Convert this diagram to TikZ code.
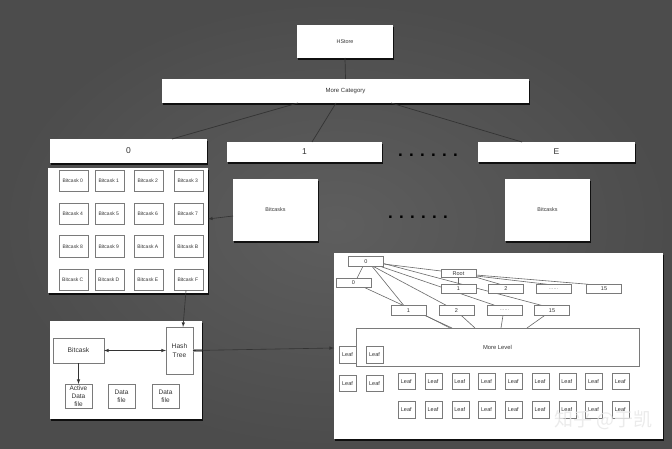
\documentclass[tikz,border=0pt]{standalone}
\usepackage{fontspec}
\setmainfont{Liberation Sans}
\newfontfamily\cjkfont{Noto Sans CJK SC}
\usepackage{xcolor}
\usetikzlibrary{matrix}
\usetikzlibrary{shadows}
\usetikzlibrary{backgrounds}
\definecolor{boardgray}{HTML}{5E5E5E}
\definecolor{boardedge}{HTML}{4C4C4C}
\definecolor{boxline}{HTML}{7A7A7A}
\definecolor{wireline}{HTML}{333333}
\definecolor{labeltext}{HTML}{333333}

\tikzset{
  panel/.style={draw=none, fill=white, inner sep=0pt, outer sep=0pt, text=labeltext,
    drop shadow={shadow xshift=0.6pt, shadow yshift=-1.6pt, fill=black, opacity=.8}},
  smallbox/.style={draw=boxline, line width=.7pt, fill=white, inner sep=0pt, outer sep=0pt, text=labeltext,
    align=center, font=\fontsize{5.5}{6.5}\selectfont},
  leafbox/.style={smallbox, minimum width=17pt, minimum height=16.5pt},
  levelbox/.style={smallbox, minimum width=35pt, minimum height=9.5pt},
  filebox/.style={smallbox, minimum width=27pt, minimum height=24pt, font=\fontsize{6.5}{8}\selectfont},
  wire/.style={draw=wireline, line width=.7pt},
  thinwire/.style={draw=boxline!85!black, line width=.6pt},
  arrowwire/.style={draw=wireline, line width=.6pt, >=latex},
  dotrow/.style={text=black, font=\fontsize{17}{17}\bfseries\selectfont, inner sep=0pt},
}

\begin{document}
\begin{tikzpicture}[x=1pt, y=-1pt]
  \useasboundingbox (0,0) rectangle (672,449);

  \begin{scope}[on background layer]
    \shade[inner color=boardgray, outer color=boardedge] (0,0) rectangle (672,449);
    \node[panel, minimum width=96pt, minimum height=33pt, font=\fontsize{5.4}{6}\selectfont] (hstore) at (345,41.5) {HStore};
    \node[panel, minimum width=367pt, minimum height=24pt, font=\fontsize{6}{7}\selectfont] (category) at (345.5,91) {More Category};
    \node[panel, minimum width=157pt, minimum height=24pt, font=\fontsize{8.5}{10}\selectfont] (zero) at (128.5,151) {0};
    \node[panel, minimum width=155pt, minimum height=20pt, font=\fontsize{8.5}{10}\selectfont] (one) at (304.5,152) {1};
    \node[panel, minimum width=157pt, minimum height=20pt, font=\fontsize{8.5}{10}\selectfont] (last) at (556.5,152) {E};
    \node[panel, minimum width=160pt, minimum height=125pt] (caskpanel) at (128,230.5) {};
    \node[panel, minimum width=85pt, minimum height=62pt, font=\fontsize{5.4}{6}\selectfont] (casksa) at (275.5,210) {Bitcasks};
    \node[panel, minimum width=85pt, minimum height=62pt, font=\fontsize{5.4}{6}\selectfont] (casksb) at (547.5,210) {Bitcasks};
    \node[panel, minimum width=152pt, minimum height=98pt] (filepanel) at (126,370) {};
    \node[panel, minimum width=329pt, minimum height=186pt] (treepanel) at (498.5,346) {};
  \end{scope}

  \node[dotrow] (dotsa) at (428,155) {. . . . . .};
  \node[dotrow] (dotsb) at (418,217) {. . . . . .};

  \matrix [
    matrix of nodes,
    inner sep=0pt,
    nodes={smallbox, minimum width=29pt, minimum height=21.5pt, font=\fontsize{5}{6}\selectfont},
  ] (M) at (131,230.5) {
    Bitcask 0 &[6.3pt] Bitcask 1 &[9.3pt] Bitcask 2 &[10.3pt] Bitcask 3 \\[10.8pt]
    Bitcask 4 & Bitcask 5 & Bitcask 6 & Bitcask 7 \\[10.3pt]
    Bitcask 8 & Bitcask 9 & Bitcask A & Bitcask B \\[11.3pt]
    Bitcask C & Bitcask D & Bitcask E & Bitcask F \\
  };

  \node[smallbox, minimum width=27pt, minimum height=47pt, font=\fontsize{6.7}{8.5}\selectfont] (hash) at (179.5,350.5) {Hash\\Tree};
  \node[smallbox, minimum width=51pt, minimum height=25pt, font=\fontsize{6.7}{8}\selectfont] (cask) at (78.5,350.5) {Bitcask};
  \node[filebox] (active) at (78.5,396) {Active\\Data\\file};
  \node[filebox] (filea) at (121.5,396) {Data\\file};
  \node[filebox] (fileb) at (165.5,396) {Data\\file};

  \node[levelbox] (topzero) at (366,261.5) {0};
  \node[levelbox] (leftzero) at (353.5,283) {0};
  \node[smallbox, minimum width=35pt, minimum height=7.5pt] (root) at (458.5,273.5) {Root};
  \node[levelbox] (upa) at (458.5,289) {1};
  \node[levelbox] (upb) at (506,289) {2};
  \node[levelbox] (upc) at (553.5,289) {\textcolor{gray}{......}};
  \node[levelbox] (upd) at (604,289) {15};
  \node[levelbox] (lowa) at (408.5,310.5) {1};
  \node[levelbox] (lowb) at (456.5,310.5) {2};
  \node[levelbox] (lowc) at (504.5,310.5) {\textcolor{gray}{......}};
  \node[levelbox] (lowd) at (552,310.5) {15};
  \node[smallbox, minimum width=283pt, minimum height=38pt, font=\fontsize{5.8}{7}\selectfont] (level) at (497.5,347) {More Level};

  \node[leafbox] (leafa) at (347.5,355) {Leaf};
  \node[leafbox] (leafb) at (374.5,355) {Leaf};
  \node[leafbox] (leafc) at (347.5,383.5) {Leaf};
  \node[leafbox] (leafd) at (374.5,383.5) {Leaf};

  \matrix [
    matrix of nodes,
    inner sep=0pt,
    nodes={leafbox},
    column sep=9.05pt, row sep=11.3pt,
  ] (L) at (514,395.5) {
    Leaf & Leaf & Leaf & Leaf & Leaf & Leaf & Leaf & Leaf & Leaf \\
    Leaf & Leaf & Leaf & Leaf & Leaf & Leaf & Leaf & Leaf & Leaf \\
  };

  \begin{scope}[on background layer]
    \draw[wire] (hstore.south) -- (category.north);
    \draw[wire] ([xshift=-47.5pt]category.south) -- ([xshift=43.5pt]zero.north);
    \draw[wire] ([xshift=-9.5pt]category.south) -- ([xshift=7.5pt]one.north);
    \draw[wire] ([xshift=45.5pt]category.south) -- ([xshift=-34.5pt]last.north);

    \draw[thinwire] ([xshift=-3pt]topzero.south) -- ([xshift=3.5pt]leftzero.north);
    \draw[thinwire] ([xshift=6pt]topzero.south) -- ([xshift=-4.5pt]lowa.north);
    \draw[thinwire] ([xshift=7pt]topzero.south) -- ([xshift=-9.5pt]lowb.north);
    \draw[thinwire] ([xshift=14pt]topzero.south) -- ([xshift=-8.5pt]lowc.north);
    \draw[thinwire] ([yshift=-2pt]topzero.east) -- ([xshift=-9pt]lowd.north);
    \draw[thinwire] ([yshift=-2.5pt]topzero.east) -- ([yshift=2.5pt]root.west);
    \draw[thinwire] (root.south) -- (upa.north);
    \draw[thinwire] (root.south east) -- ([xshift=-6pt]upb.north);
    \draw[thinwire] ([yshift=-2.5pt]root.east) -- ([xshift=-6.5pt]upc.north);
    \draw[thinwire] ([yshift=-1.5pt]root.east) -- ([xshift=-16pt]upd.north);
    \draw[thinwire] ([xshift=11.5pt]leftzero.south) -- ([xshift=-45.5pt]level.north);
    \draw[thinwire] ([xshift=16.5pt]lowa.south) -- ([xshift=-47.5pt]level.north);
    \draw[thinwire] ([xshift=4.5pt]lowb.south) -- ([xshift=-22.5pt]level.north);
    \draw[thinwire] ([xshift=-1.5pt]lowc.south) -- ([xshift=3.5pt]level.north);
    \draw[thinwire] ([xshift=-7pt]lowd.south) -- ([xshift=29.5pt]level.north);
  \end{scope}

  \draw[arrowwire, ->] ([yshift=-6pt]casksa.west) -- ([yshift=11.5pt]caskpanel.east);
  \draw[arrowwire, ->] ([xshift=-2.5pt]M-4-4.south) -- ([xshift=3.5pt]hash.north);
  \draw[arrowwire, <->] (cask.east) -- (hash.west);
  \draw[arrowwire, ->] (cask.south) -- (active.north);
  \draw[line width=2.2pt, draw=boxline!80] (hash.east) -- (hash.east -| filepanel.east);
  \draw[arrowwire, ->] (hash.east) -- ([yshift=-2pt]treepanel.west);

  \node[text=white!82!gray, opacity=.85, inner sep=0pt, font=\cjkfont\fontsize{19}{21}\selectfont] (mark) at (603.5,420) {知乎 @于凯};
\end{tikzpicture}
\end{document}
